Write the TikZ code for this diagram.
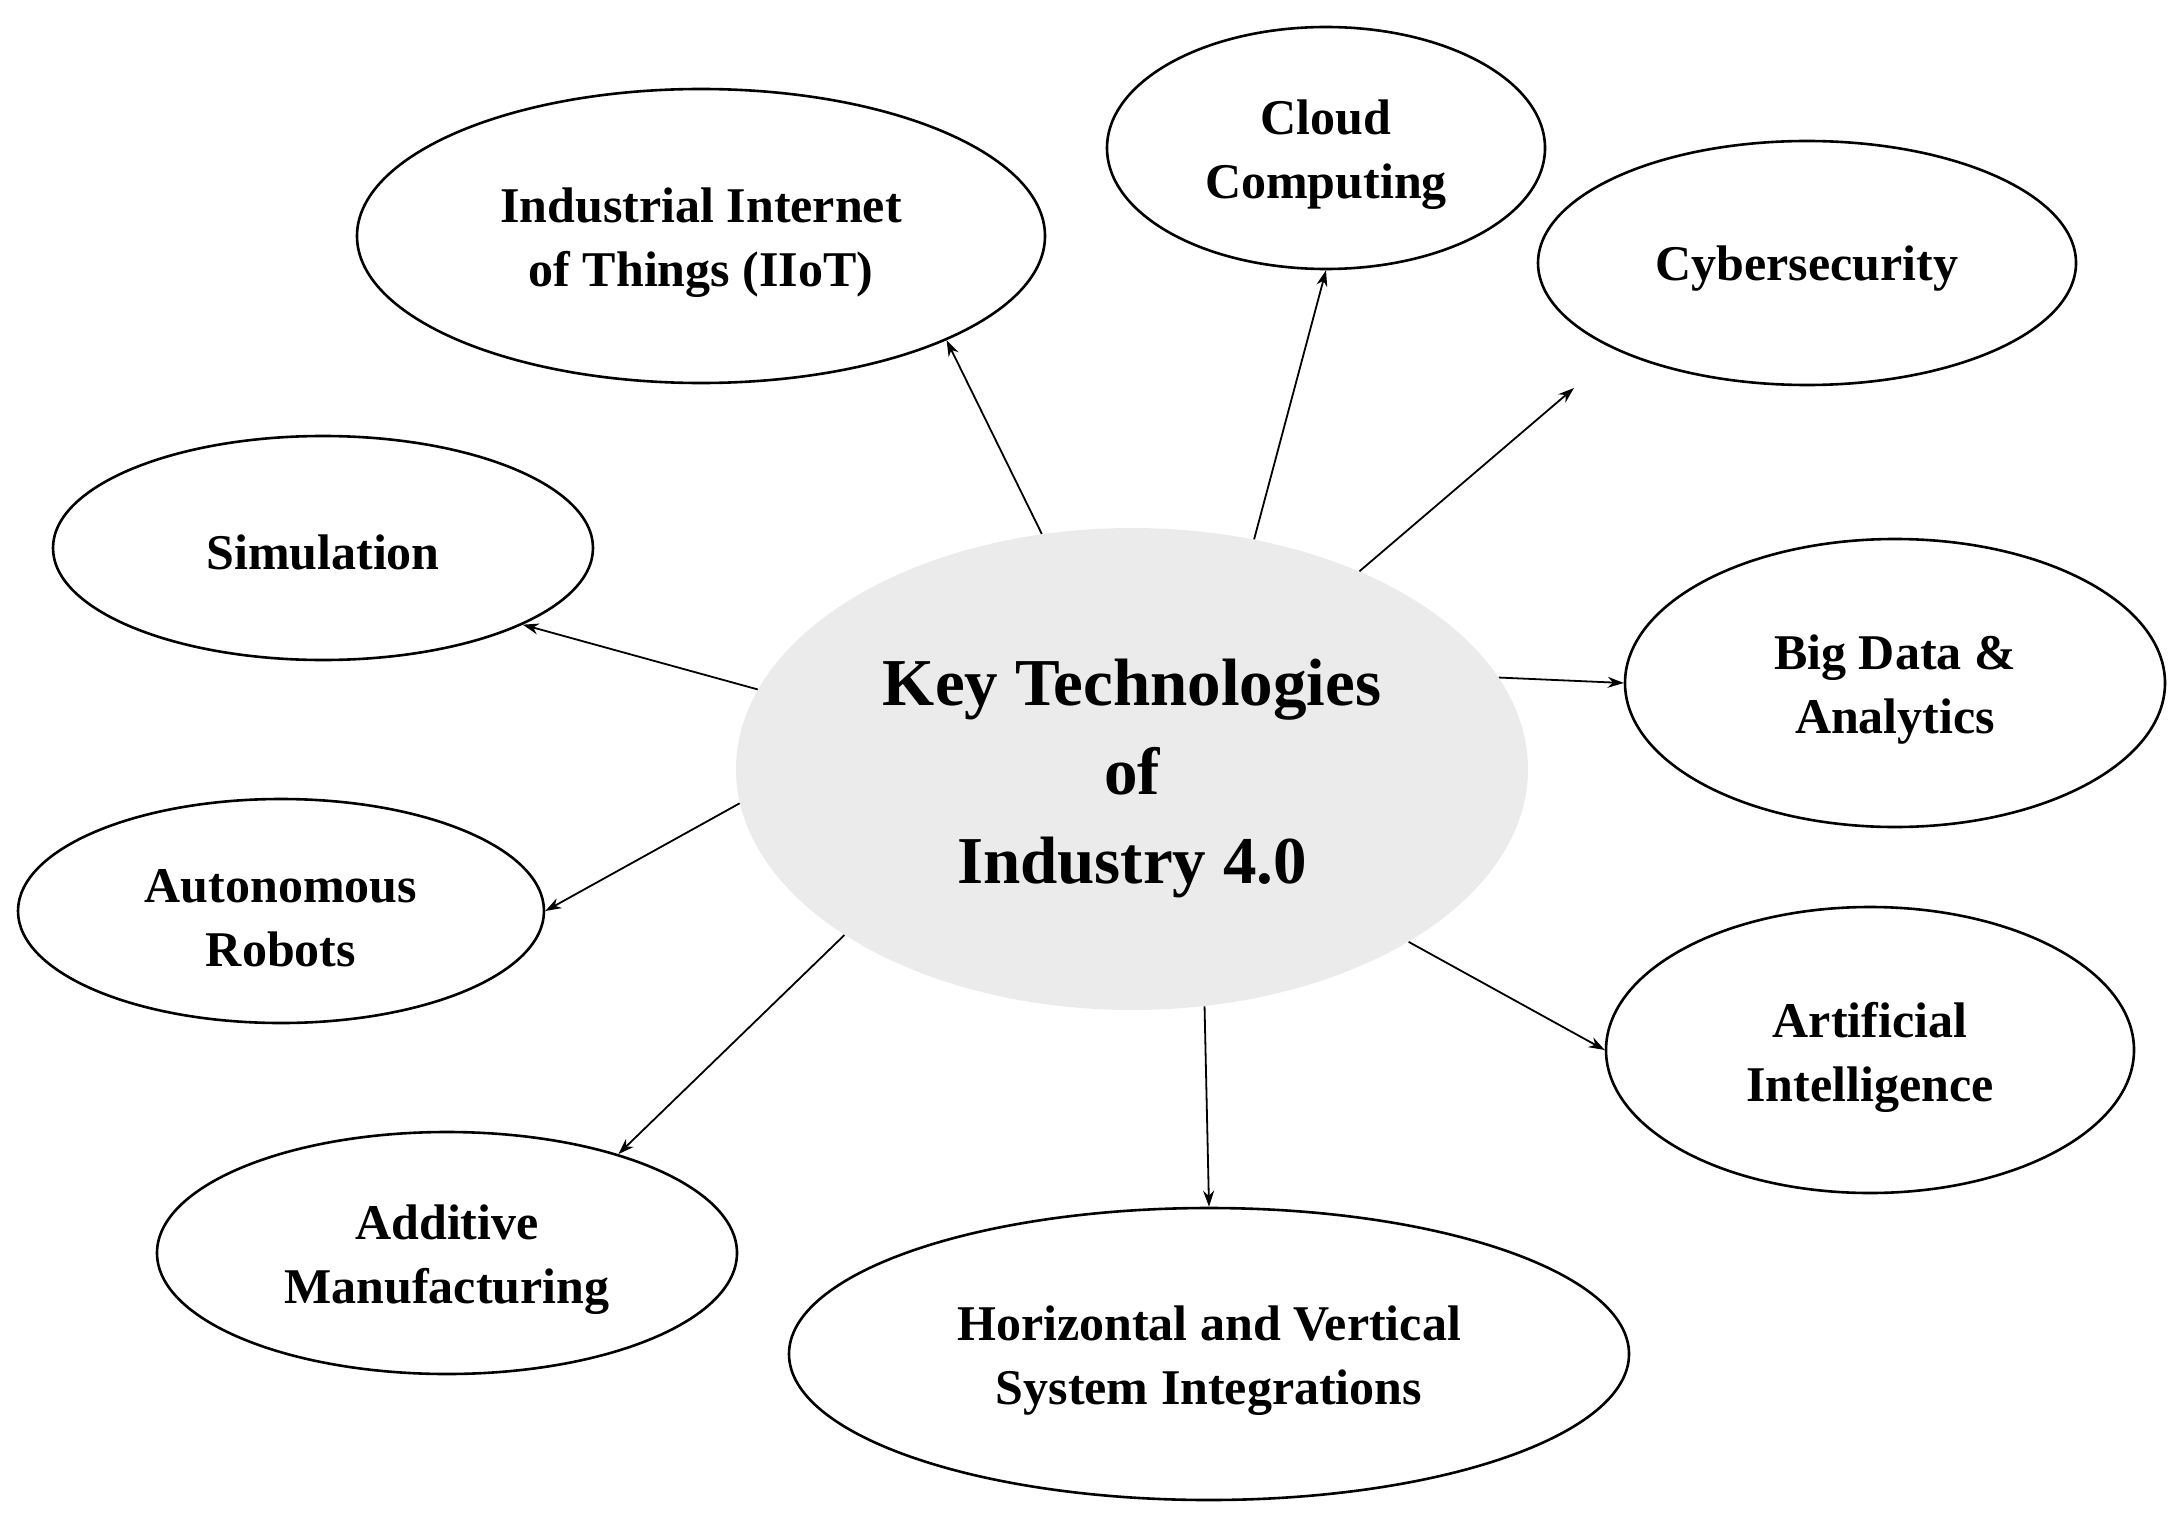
\documentclass[tikz,border=0pt]{standalone}
\usepackage{fontspec}
\setmainfont{Liberation Serif}
\usetikzlibrary{shapes.geometric,arrows.meta}
\begin{document}
\begin{tikzpicture}[x=0.5pt,y=-0.5pt,
  tech/.style={ellipse,draw=black,line width=1.3pt,inner sep=0pt},
  txt/.style={inner sep=0pt,align=center,font=\fontsize{25}{32}\selectfont\bfseries},
  hub/.style={ellipse,fill=black!8,inner sep=0pt},
  hubtxt/.style={inner sep=0pt,align=center,font=\fontsize{33.5}{44.5}\selectfont\bfseries},
  link/.style={line width=0.9pt,-{Stealth[length=8pt,width=5.5pt]}}]
\useasboundingbox (0,0) rectangle (2178,1514);

\node[hub,minimum width=396pt,minimum height=241pt] (K) at (1132,769) {};
\node[hubtxt] (Kt) at ([yshift=-4.5pt]K.center) {Key Technologies\\of\\Industry 4.0};

\node[tech,minimum width=344pt,minimum height=147pt] (iiot) at (701,236) {};
\node[txt] (iiott) at ([yshift=-3.5pt]iiot.center) {Industrial Internet\\of Things (IIoT)};
\node[tech,minimum width=219pt,minimum height=121pt] (cloud) at (1326,148) {};
\node[txt] (cloudt) at ([yshift=-3.5pt]cloud.center) {Cloud\\Computing};
\node[tech,minimum width=269pt,minimum height=122pt] (cyber) at (1807,263) {};
\node[txt] (cybert) at ([yshift=-3pt]cyber.center) {Cybersecurity};
\node[tech,minimum width=270pt,minimum height=144pt] (bd) at (1895,683) {};
\node[txt] (bdt) at ([yshift=-3.5pt]bd.center) {Big Data \&\\Analytics};
\node[tech,minimum width=264pt,minimum height=143pt] (ai) at (1870,1050) {};
\node[txt] (ait) at ([yshift=-3.5pt]ai.center) {Artificial\\Intelligence};
\node[tech,minimum width=420pt,minimum height=146pt] (hv) at (1209,1354) {};
\node[txt] (hvt) at ([yshift=-3.5pt]hv.center) {Horizontal and Vertical\\System Integrations};
\node[tech,minimum width=290pt,minimum height=121pt] (am) at (447,1253) {};
\node[txt] (amt) at ([yshift=-3.5pt]am.center) {Additive\\Manufacturing};
\node[tech,minimum width=263pt,minimum height=112pt] (ar) at (281,911) {};
\node[txt] (art) at ([yshift=-3.5pt]ar.center) {Autonomous\\Robots};
\node[tech,minimum width=270pt,minimum height=112pt] (sim) at (323,548) {};
\node[txt] (simt) at ([yshift=-2pt]sim.center) {Simulation};

\coordinate (cyT) at (1574,388);

\draw[link] (K.111) -- (iiot.-23.4);
\draw[link] (K.62) -- (cloud.south);
\draw[link] (K.41) -- (cyT);
\draw[link] (K.14.5) -- (bd.west);
\draw[link] (K.-32.4) -- (ai.west);
\draw[link] (K.-73) -- (hv.north);
\draw[link] (K.210.2) -- (am.30);
\draw[link] (K.185.3) -- (ar.east);
\draw[link] (K.168.6) -- (sim.-21.5);
\end{tikzpicture}
\end{document}
